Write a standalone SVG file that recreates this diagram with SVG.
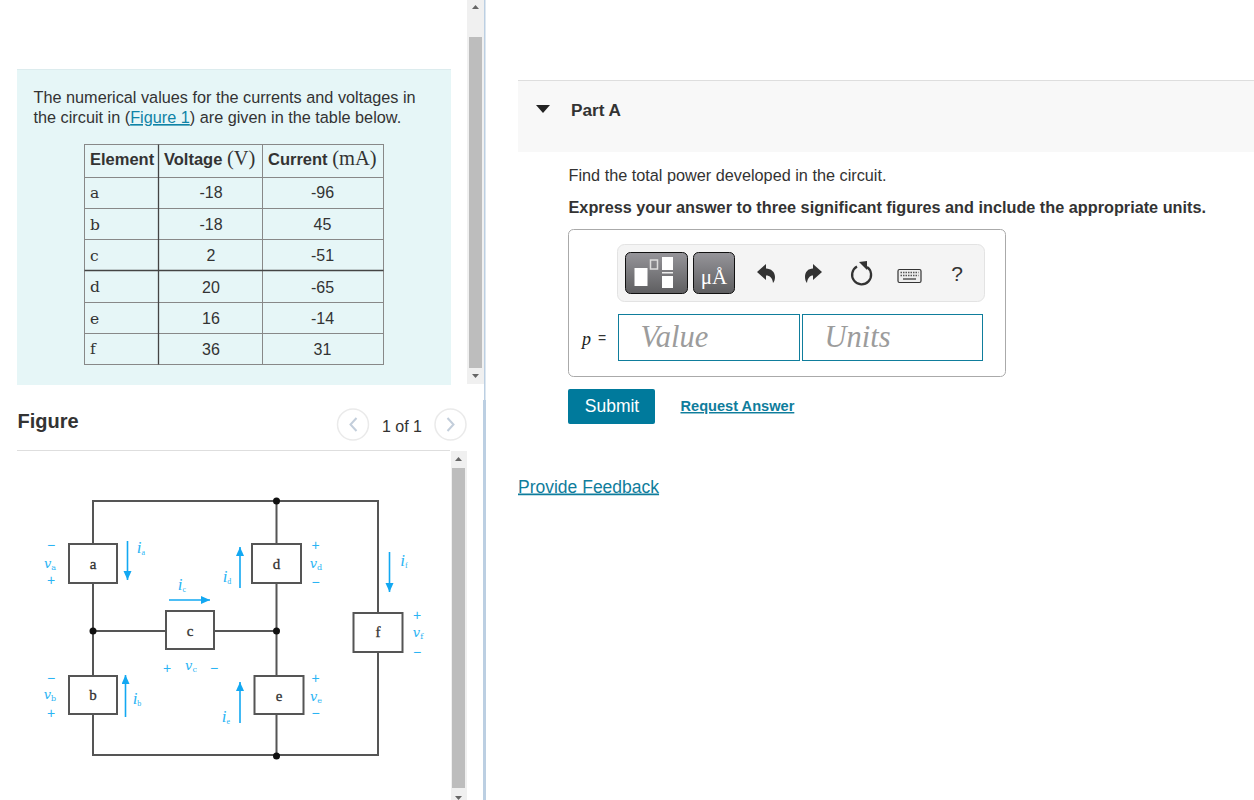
<svg xmlns="http://www.w3.org/2000/svg" width="1254" height="800" viewBox="0 0 1254 800">
<style>
text{font-family:"Liberation Sans",Arial,sans-serif;fill:#333}
.b{font-weight:700}
.s{font-family:"Liberation Serif","Times New Roman",serif}
.t{font-size:16.260px}
.c{text-anchor:middle;font-size:16px}
.h{font-size:16.500px;font-weight:700}
.l{font-family:"DejaVu Serif",serif;font-size:15.500px}
.g{stroke:#888;stroke-width:1;fill:none}
.w{stroke:#555;stroke-width:2;fill:none}
.box{stroke:#555;stroke-width:2;fill:#fff}
.n{font-family:"Liberation Serif",serif;font-size:15px;text-anchor:middle;fill:#333;stroke:#333;stroke-width:.3px}
.bl{font-family:"Liberation Serif",serif;font-style:italic;font-size:17px;fill:#2ab4f4;text-anchor:middle}
.v{font-family:"DejaVu Serif",serif;font-style:italic;font-size:13px;fill:#2ab4f4;text-anchor:middle}
.sub{font-size:8px;font-style:normal}
.pm{font-family:"Liberation Sans",sans-serif;font-size:14px;fill:#2ab4f4;text-anchor:middle}
.a{stroke:#12a8f2;stroke-width:1.600;fill:none;marker-end:url(#ah)}
.sb{fill:#f0f0f0}.th{fill:#bdbdbd}.ar{fill:#666}
.ico{fill:#333}
.ph{font-family:"Liberation Serif",serif;font-size:30.500px;font-style:italic;fill:#9c9c9c}
</style>
<defs>
<marker id="ah" markerUnits="userSpaceOnUse" markerWidth="10" markerHeight="12" refX="9" refY="4" orient="auto"><path d="M0 0L9 4L0 8Z" fill="#12a8f2"/></marker>
<linearGradient id="btn" x1="0" y1="0" x2="0" y2="1"><stop offset="0" stop-color="#96959a"/><stop offset="1" stop-color="#5e5e60"/></linearGradient>
</defs>

<rect width="1254" height="800" fill="#fff"/>

<g id="problem">
<rect x="17" y="69" width="434" height="316" fill="#e6f6f7"/>
<rect x="17" y="69" width="434" height="1" fill="#dcecee"/>
<text class="t" x="33.500" y="103">The numerical values for the currents and voltages in</text>
<text class="t" x="33.500" y="123">the circuit in (<tspan style="fill:#0f83a6" text-decoration="underline">Figure 1</tspan>) are given in the table below.</text>
</g>

<g id="table">
<rect class="g" x="84.500" y="144.500" width="299" height="220"/>
<path class="g" d="M262.500 144.500V364.500M84.500 177.500H383.500M84.500 208.500H383.500M84.500 239.500H383.500M84.500 302.500H383.500M84.500 333.500H383.500"/>
<path d="M158.500 144.500V364.500M84.500 270.500H383.500" stroke="#444" stroke-width="1.300" fill="none"/>
<text class="h" x="90" y="165">Element</text>
<text class="h" x="164" y="165">Voltage <tspan class="s" font-weight="400" font-size="20.500">(V)</tspan></text>
<text class="h" x="268" y="165">Current <tspan class="s" font-weight="400" font-size="20.500">(mA)</tspan></text>
<text class="l" x="90" y="198">a</text>
<text class="l" x="90" y="230">b</text>
<text class="l" x="90" y="261">c</text>
<text class="l" x="90" y="292">d</text>
<text class="l" x="90" y="324">e</text>
<text class="l" x="90" y="354">f</text>
<text class="c" x="211" y="198">-18</text><text class="c" x="322.500" y="198">-96</text>
<text class="c" x="211" y="230">-18</text><text class="c" x="322.500" y="230">45</text>
<text class="c" x="211" y="261">2</text><text class="c" x="322.500" y="261">-51</text>
<text class="c" x="211" y="293">20</text><text class="c" x="322.500" y="293">-65</text>
<text class="c" x="211" y="324">16</text><text class="c" x="322.500" y="324">-14</text>
<text class="c" x="211" y="355">36</text><text class="c" x="322.500" y="355">31</text>
</g>

<g id="figure-header">
<text class="b" x="17.500" y="428" font-size="20">Figure</text>
<circle cx="353" cy="424.500" r="15.500" fill="#fff" stroke="#eaeaea" stroke-width="1.500"/>
<path d="M356.500 418L350.500 424.500L356.500 431" fill="none" stroke="#c3cedb" stroke-width="2"/>
<text x="402" y="432" font-size="16" text-anchor="middle">1 of 1</text>
<circle cx="450.500" cy="424.500" r="15.500" fill="#fff" stroke="#eaeaea" stroke-width="1.500"/>
<path d="M447.500 418L453.500 424.500L447.500 431" fill="none" stroke="#c3cedb" stroke-width="2"/>
<rect x="17" y="450" width="433" height="1" fill="#dedede"/>
</g>

<g id="connectors">
<path class="w" d="M93 544V501H378V613M378 652V755H93V714M93 676V583M93 631H166M214 631H276.500M276.500 501V544M276.500 583V676M276.500 714V755"/>
<circle cx="93" cy="631" r="3.500" fill="#111"/>
<circle cx="276.500" cy="501" r="3.500" fill="#111"/>
<circle cx="276.500" cy="631" r="3.500" fill="#111"/>
<circle cx="276.500" cy="756" r="3.500" fill="#111"/>
<path class="a" d="M127.500 541V580"/>
<path class="a" d="M169 600H210"/>
<path class="a" d="M125.500 717V675"/>
<path class="a" d="M240 588V547"/>
<path class="a" d="M240 723V682"/>
<path class="a" d="M389.500 552V592"/>
</g>

<g id="a"><rect class="box" x="69" y="544" width="48" height="39"/><text class="n" x="93" y="569">a</text></g>
<g id="b"><rect class="box" x="69" y="676" width="48" height="38"/><text class="n" x="93" y="700">b</text></g>
<g id="c"><rect class="box" x="166" y="611" width="48" height="38"/><text class="n" x="190" y="636">c</text></g>
<g id="d"><rect class="box" x="252" y="544" width="49" height="39"/><text class="n" x="276.500" y="569">d</text></g>
<g id="e"><rect class="box" x="254.500" y="676" width="49" height="38"/><text class="n" x="279" y="701">e</text></g>
<g id="f"><rect class="box" x="353.500" y="613" width="49" height="39"/><text class="n" x="378" y="637">f</text></g>

<g id="labels">
<text class="pm" x="51" y="550">−</text><text class="v" x="50" y="568">v<tspan class="sub" dy="2">a</tspan></text><text class="pm" x="51" y="585">+</text>
<text class="pm" x="51" y="683">−</text><text class="v" x="50" y="699">v<tspan class="sub" dy="2">b</tspan></text><text class="pm" x="51" y="718">+</text>
<text class="bl" x="141" y="553">i<tspan class="sub" dy="2">a</tspan></text>
<text class="bl" x="182" y="590">i<tspan class="sub" dy="2">c</tspan></text>
<text class="bl" x="137" y="704">i<tspan class="sub" dy="2">b</tspan></text>
<text class="bl" x="227" y="582">i<tspan class="sub" dy="2">d</tspan></text>
<text class="bl" x="226" y="722">i<tspan class="sub" dy="2">e</tspan></text>
<text class="bl" x="404" y="566">i<tspan class="sub" dy="2">f</tspan></text>
<text class="pm" x="167" y="673">+</text><text class="v" x="191" y="670">v<tspan class="sub" dy="2">c</tspan></text><text class="pm" x="214" y="673">−</text>
<text class="pm" x="315.500" y="550">+</text><text class="v" x="316" y="568">v<tspan class="sub" dy="2">d</tspan></text><text class="pm" x="315.500" y="587">−</text>
<text class="pm" x="315.500" y="683">+</text><text class="v" x="316" y="701">v<tspan class="sub" dy="2">e</tspan></text><text class="pm" x="315.500" y="718">−</text>
<text class="pm" x="417" y="620">+</text><text class="v" x="418" y="637">v<tspan class="sub" dy="2">f</tspan></text><text class="pm" x="417" y="657">−</text>
</g>

<g id="scrollbars">
<rect class="sb" x="467" y="0" width="17" height="384"/>
<rect class="th" x="469" y="37" width="13" height="331"/>
<path class="ar" d="M475.500 5L479 9H472Z"/>
<path class="ar" d="M472 374H479L475.500 378Z"/>
<rect x="484" y="0" width="1.500" height="800" fill="#bccfe2"/>
<rect x="483" y="400" width="3" height="400" fill="#bccfe2"/>
<rect class="sb" x="451" y="451" width="16" height="349"/>
<rect class="th" x="452" y="468" width="13" height="320"/>
<path class="ar" d="M458.500 457L462 461H455Z"/>
<path class="ar" d="M455 796H462L458.500 800Z"/>
</g>

<g id="part-a">
<rect x="518" y="80" width="736" height="72" fill="#f8f8f8"/>
<rect x="518" y="80" width="736" height="1" fill="#dedede"/>
<path d="M536 105H550L543 113Z" fill="#222"/>
<text class="b" x="571" y="116" font-size="17.200">Part A</text>
<text x="568.500" y="181" font-size="16.260">Find the total power developed in the circuit.</text>
<text class="b" x="568.500" y="213" font-size="16.260">Express your answer to three significant figures and include the appropriate units.</text>
</g>

<g id="answer">
<rect x="568.500" y="229.500" width="437" height="147" rx="5" fill="#fff" stroke="#aaa"/>
<rect x="617.500" y="244.500" width="367" height="57" rx="7" fill="#f4f4f4" stroke="#e3e3e3"/>
<rect x="625.500" y="252.500" width="62" height="41" rx="5" fill="url(#btn)" stroke="#111"/>
<rect x="634.500" y="268" width="13" height="18" fill="#fff"/>
<rect x="650.500" y="260" width="7" height="9" fill="none" stroke="#ddd" stroke-width="1.500"/>
<rect x="662" y="257" width="11" height="13" fill="#fff"/>
<rect x="662" y="272" width="11" height="1.500" fill="#eee"/>
<rect x="662" y="276" width="11" height="12" fill="#fff"/>
<rect x="693.500" y="252.500" width="41" height="41" rx="5" fill="url(#btn)" stroke="#111"/>
<text x="714" y="284" font-size="21" text-anchor="middle" style="font-family:'Liberation Serif',serif;fill:#fff">μÅ</text>
<path class="ico" d="M757 272L766 264V268.500C771 268.500 775 272 775 277C775 280 774 282 773 283C772.500 278 770 275.500 766 275.500V280Z"/>
<path class="ico" d="M822 272L813 264V268.500C808 268.500 805 272 805 277C805 280 806 282 807 283C807.500 278 810 275.500 813 275.500V280Z"/>
<path d="M857 266.500A9.500 9.500 0 1 0 867 267" fill="none" stroke="#333" stroke-width="2.300"/>
<path class="ico" d="M859 262L867 261V270Z"/>
<rect x="898" y="269.500" width="23" height="13" rx="1.500" fill="#eee" stroke="#333" stroke-width="1.200"/>
<path d="M900.500 272.500H918.500M900.500 275.500H918.500" stroke="#555" stroke-width="1.500" stroke-dasharray="1.500 1"/>
<path d="M903 279H916" stroke="#555" stroke-width="1.500"/>
<text x="957" y="281" font-size="21" text-anchor="middle">?</text>
<text x="582" y="345" font-size="18" style="font-family:'Liberation Serif',serif;font-style:italic;fill:#222">p</text>
<text x="598" y="343" font-size="14">=</text>
<rect x="618.500" y="314.500" width="181" height="46" fill="#fff" stroke="#0f7d9c"/>
<rect x="802.500" y="314.500" width="180" height="46" fill="#fff" stroke="#0f7d9c"/>
<text class="ph" x="640.500" y="347">Value</text>
<text class="ph" x="824.500" y="347">Units</text>
</g>

<g id="actions">
<rect x="568" y="389" width="87" height="35" rx="2" fill="#007a9c"/>
<text x="612" y="411.500" font-size="17.500" text-anchor="middle" style="fill:#fff">Submit</text>
<text class="b" x="680.500" y="411" font-size="14.600" text-decoration="underline" style="fill:#0f7d9c">Request Answer</text>
<text x="518" y="492.500" font-size="17.500" text-decoration="underline" style="fill:#0f7d9c">Provide Feedback</text>
</g>
</svg>
